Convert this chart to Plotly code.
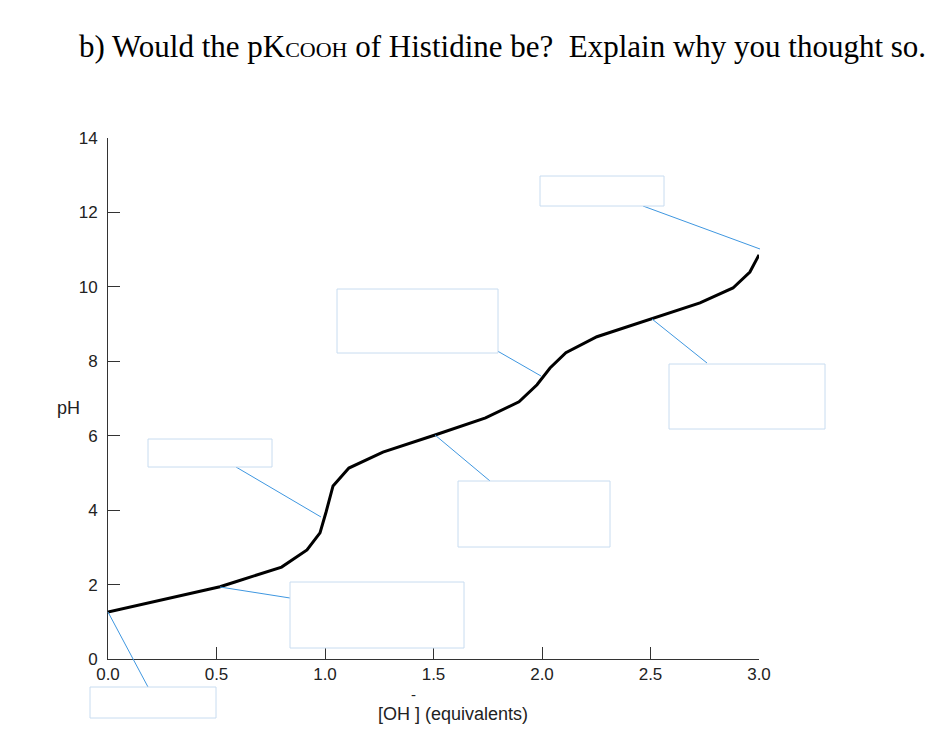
import plotly.graph_objects as go

equiv = [0.0, 0.516, 0.585, 0.80, 0.917, 0.977, 1.005, 1.037, 1.11, 1.267, 1.507, 1.74, 1.894, 1.977, 2.037, 2.11, 2.253, 2.507, 2.728, 2.88, 2.958, 3.0]
ph = [1.26, 1.94, 2.07, 2.47, 2.93, 3.39, 3.95, 4.65, 5.13, 5.56, 6.02, 6.48, 6.91, 7.37, 7.82, 8.23, 8.66, 9.14, 9.57, 9.97, 10.4, 10.86]
xticks = [0.0, 0.5, 1.0, 1.5, 2.0, 2.5, 3.0]
xlabels = ["0.0", "0.5", "1.0", "1.5", "2.0", "2.5", "3.0"]
yticks = [0, 2, 4, 6, 8, 10, 12, 14]

OFF = 8  # page body margin
L, R, T, B = 108, 759, 138, 659
def px(X): return (X - L) / (R - L)
def py(Y): return (B - Y) / (B - T)

boxes = [(540,176,664,206),(337,289,498,353),(669,364,825,429),(148,439,272,467),
         (458,481,610,547),(290,582,464,648),(90,687,216,718)]
leaders = [(643,206,760,249),(487,345,541,376),(707,363,652,319),(236,467,321,517),
           (490,481,435,435),(290,598,220,587),(148,687,108,612)]

fig = go.Figure(go.Scatter(x=equiv, y=ph, mode="lines", line=dict(color="black", width=3), hoverinfo="skip"))
shapes = []
for x0,y0,x1,y1 in leaders:
    shapes.append(dict(type="line", xref="paper", yref="paper", x0=px(x0), y0=py(y0), x1=px(x1), y1=py(y1),
                       line=dict(color="#3f97e0", width=1)))
for x0,y0,x1,y1 in boxes:
    shapes.append(dict(type="rect", xref="paper", yref="paper", x0=px(x0), y0=py(y0), x1=px(x1), y1=py(y1),
                       line=dict(color="#c8dcf0", width=1), fillcolor="white"))
fig.update_layout(
    width=940, height=740, margin=dict(l=L-OFF, r=940-R+OFF, t=T-OFF, b=740-B+OFF, autoexpand=False),
    paper_bgcolor="white", plot_bgcolor="white", showlegend=False,
    font=dict(family="Liberation Sans, Arial", size=17, color="#222"),
    xaxis=dict(range=[0, 3], tickvals=xticks, ticktext=xlabels, ticks="inside", ticklen=12,
               tickcolor="#333", showline=True, linecolor="#333", showgrid=False, zeroline=False),
    yaxis=dict(range=[0, 14], tickvals=yticks, ticks="inside", ticklen=12, tickcolor="#333",
               ticklabelstandoff=6,
               showline=True, linecolor="#333", showgrid=False, zeroline=False),
    shapes=shapes,
    annotations=[
        dict(text="b) Would the pK<span style='font-size:22px'>COOH</span> of Histidine be?  Explain why you thought so.",
             x=px(502), y=py(27), xref="paper", yref="paper", showarrow=False,
             font=dict(family="Liberation Serif, Times New Roman", size=31, color="black")),
        dict(text="pH", x=px(55), y=py(408), xref="paper", yref="paper", showarrow=False, font=dict(size=18)),
        dict(text="[OH ] (equivalents)", x=px(453), y=py(726), xref="paper", yref="paper", showarrow=False, font=dict(size=18)),
        dict(text="-", x=px(413), y=py(705), xref="paper", yref="paper", showarrow=False, font=dict(size=15)),
    ],
)
fig.write_html("out.html")
